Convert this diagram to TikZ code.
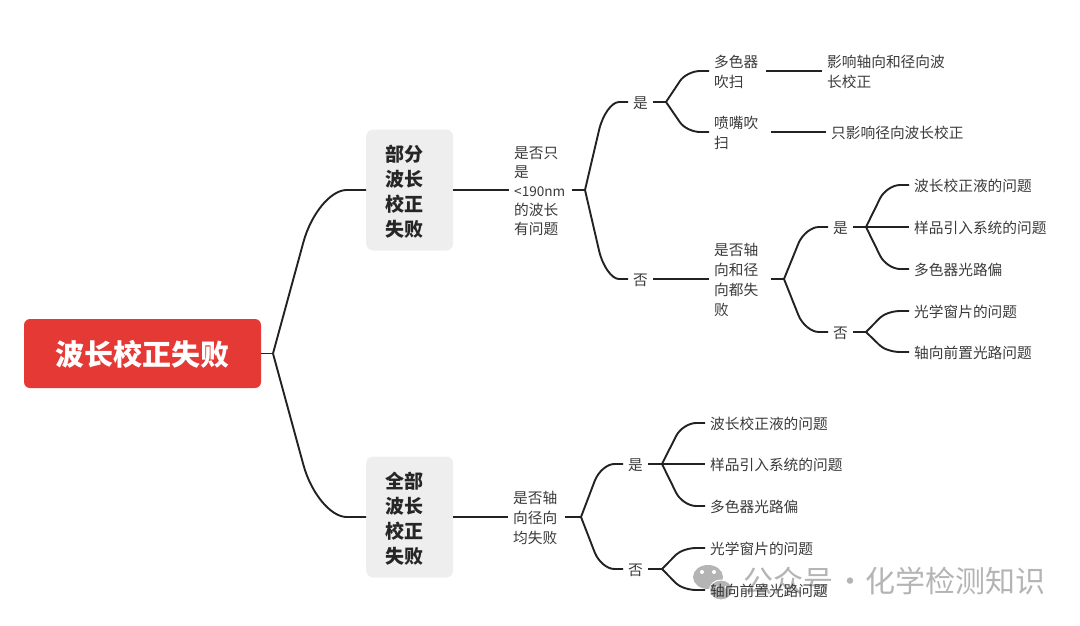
\documentclass[tikz,border=0pt]{standalone}
\usepackage{fontspec}
\setmainfont{Noto Sans CJK SC}
\usepackage{tikz}
\usetikzlibrary{calc}
\definecolor{rootred}{HTML}{E53935}
\definecolor{boxgray}{HTML}{EEEEEE}
\definecolor{inkgray}{HTML}{3A3A3A}
\definecolor{linegray}{HTML}{222222}
\definecolor{markgray}{HTML}{B4B4B4}

\begin{document}
\begin{tikzpicture}[x=1pt,y=-1pt,
    root_node/.style={rectangle,rounded corners=6pt,fill=rootred,text=white,text width=237pt,minimum height=69pt,inner sep=0pt,align=center,execute at begin node={\rule{0pt}{27pt}},font=\fontsize{29}{34}\selectfont\bfseries},
    box_node/.style={rectangle,rounded corners=7pt,fill=boxgray,text=black!85,anchor=west,minimum height=121pt,text width=49pt,inner xsep=19pt,inner ysep=0pt,align=left,execute at begin node={\rule{0pt}{20.5pt}},font=\fontsize{19}{25}\selectfont\bfseries},
    text_node/.style={anchor=west,inner xsep=5pt,inner ysep=2pt,text width=#1,align=left,text=inkgray,execute at begin node={\rule{0pt}{15pt}},font=\fontsize{14.7}{20}\selectfont},
    text_node/.default=140pt,
    elbow/.style={to path={let \p1=($(\tikztostart |- \tikztotarget.west)!0.48!(\tikztotarget.west)$),\p2=($(\tikztostart)!0.68!(\p1)$),\p3=($(\p1)!0.6!(\tikztotarget.west)$) in (\tikztostart) -- (\p2) .. controls ($(\p2)!0.55!(\p1)$) and ($(\p3)!0.55!(\p1)$) .. (\p3) -- (\tikztotarget)}},
    line_path/.style={draw=linegray,line width=1.9pt}]
    \useasboundingbox (0,0) rectangle (1080,625);

    \fill[markgray] (708,577) ellipse (15pt and 12pt);
    \fill[markgray,draw=white,line width=1pt] (721,590) ellipse (11.5pt and 10pt);
    \fill[white] (702,572) circle (2pt) (714,572) circle (2pt) (717,587) circle (1.5pt) (726,587) circle (1.5pt);
    \node[text=markgray,anchor=west,inner sep=0pt,font=\fontsize{30}{34}\selectfont] (mark) at (743,581) {公众号\hspace{2.5pt}·\hspace{0pt}化学检测知识};

    \node[root_node] (root) at (142.5,353.5) {波长校正失败};
    \coordinate (j0) at (273,353.5);
    \node[box_node] (part) at (366,190) {部分\\波长\\校正\\失败};
    \node[box_node] (whole) at (366,517) {全部\\波长\\校正\\失败};

    \node[text_node=53pt,font=\fontsize{14.7}{19}\selectfont] (q1) at (509,190) {是否只\\是\\{\fontsize{13.6}{19}\selectfont <190nm}\\的波长\\有问题};
    \coordinate (j1) at (585,190);
    \node[text_node=15pt] (yes1) at (628,102) {是};
    \node[text_node=15pt] (no1) at (628,279) {否};
    \coordinate (j2) at (666,102);
    \node[text_node=47pt] (sweep1) at (709,71) {多色器\\吹扫};
    \node[text_node=52pt] (sweep2) at (709,132) {喷嘴吹\\扫};
    \node[text_node=120pt] (effect1) at (822,71) {影响轴向和径向波\\长校正};
    \node[text_node] (effect2) at (826,132) {只影响径向波长校正};

    \node[text_node=52pt] (q2) at (709,279) {是否轴\\向和径\\向都失\\败};
    \coordinate (j3) at (784,279);
    \node[text_node=15pt] (yes2) at (828,227) {是};
    \node[text_node=15pt] (no2) at (828,332) {否};
    \coordinate (j4) at (866,227);
    \coordinate (j5) at (866,332);
    \node[text_node] (a1) at (909,185) {波长校正液的问题};
    \node[text_node] (a2) at (909,227) {样品引入系统的问题};
    \node[text_node] (a3) at (909,269) {多色器光路偏};
    \node[text_node] (a4) at (909,311) {光学窗片的问题};
    \node[text_node] (a5) at (909,352) {轴向前置光路问题};

    \node[text_node=47pt] (q3) at (508,517) {是否轴\\向径向\\均失败};
    \coordinate (j6) at (581,517);
    \node[text_node=15pt] (yes3) at (623,464) {是};
    \node[text_node=15pt] (no3) at (623,569) {否};
    \coordinate (j7) at (662,464);
    \coordinate (j8) at (662,569);
    \node[text_node] (b1) at (705,423) {波长校正液的问题};
    \node[text_node] (b2) at (705,464) {样品引入系统的问题};
    \node[text_node] (b3) at (705,506) {多色器光路偏};
    \node[text_node] (b4) at (705,548) {光学窗片的问题};
    \node[text_node] (b5) at (705,590) {轴向前置光路问题};

    \draw[line_path] (root.east |- j0) -- (j0);
    \draw[line_path] (j0) to[elbow] (part);
    \draw[line_path] (j0) to[elbow] (whole);
    \draw[line_path] (part) -- (q1);
    \draw[line_path] (whole) -- (q3);

    \draw[line_path] (q1) -- (j1);
    \draw[line_path] (j1) to[elbow] (yes1);
    \draw[line_path] (j1) to[elbow] (no1);
    \draw[line_path] (yes1) -- (j2);
    \draw[line_path] (j2) to[elbow] (sweep1);
    \draw[line_path] (j2) to[elbow] (sweep2);
    \draw[line_path] (sweep1) -- (effect1);
    \draw[line_path] (sweep2) -- (effect2);

    \draw[line_path] (no1) -- (q2);
    \draw[line_path] (q2) -- (j3);
    \draw[line_path] (j3) to[elbow] (yes2);
    \draw[line_path] (j3) to[elbow] (no2);
    \draw[line_path] (yes2) -- (j4);
    \draw[line_path] (no2) -- (j5);
    \draw[line_path] (j4) to[elbow] (a1);
    \draw[line_path] (j4) -- (a2);
    \draw[line_path] (j4) to[elbow] (a3);
    \draw[line_path] (j5) to[elbow] (a4);
    \draw[line_path] (j5) to[elbow] (a5);

    \draw[line_path] (q3) -- (j6);
    \draw[line_path] (j6) to[elbow] (yes3);
    \draw[line_path] (j6) to[elbow] (no3);
    \draw[line_path] (yes3) -- (j7);
    \draw[line_path] (no3) -- (j8);
    \draw[line_path] (j7) to[elbow] (b1);
    \draw[line_path] (j7) -- (b2);
    \draw[line_path] (j7) to[elbow] (b3);
    \draw[line_path] (j8) to[elbow] (b4);
    \draw[line_path] (j8) to[elbow] (b5);
\end{tikzpicture}
\end{document}
